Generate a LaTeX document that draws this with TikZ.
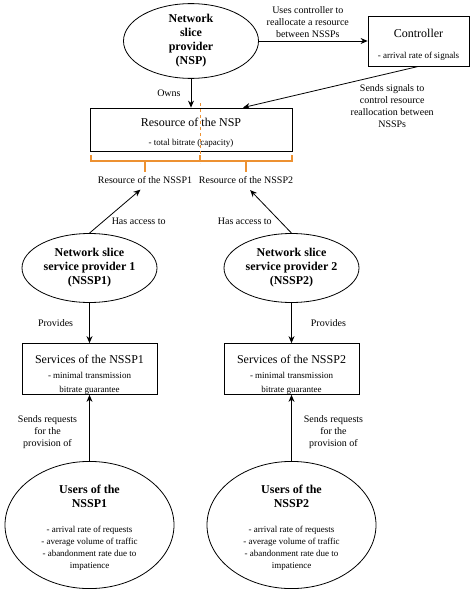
\documentclass[tikz,border=0pt]{standalone}
\usepackage{fontspec}
\setmainfont{Liberation Serif}
\usetikzlibrary{positioning,arrows.meta,shapes.geometric}
\definecolor{sharecolor}{RGB}{237,145,49}

\begin{document}
\begin{tikzpicture}[x=1pt,y=-1pt,
    provider/.style={ellipse, draw, line width=0.8pt, inner sep=0pt, align=center, font=\large\bfseries},
    asset/.style={rectangle, draw, line width=0.8pt, inner sep=0pt, align=center, font=\large},
    small/.style={font=\normalsize, align=center, inner sep=2pt},
    link/.style={-{Stealth[length=7pt,width=6pt]}, line width=0.8pt},
    share/.style={draw=sharecolor, line width=1.2pt}
]
\useasboundingbox (0,0) rectangle (474,594);

\node[provider, minimum width=135pt, minimum height=68pt] (nsp) at (191,41) {Network\\slice\\provider\\(NSP)};
\node[asset, minimum width=101pt, minimum height=50pt] (ctrl) at (418.5,41) {\rule{0pt}{15pt}Controller\\[7pt]{\small - arrival rate of signals}};
\node[asset, minimum width=202pt, minimum height=43pt] (res) at (191,129.5) {\rule{0pt}{14pt}Resource of the NSP\\[5pt]{\small - total bitrate (capacity)}};

% split of the capacity
\draw[share] (91,155) -- (91,161) -- (292,161) -- (292,155);
\draw[share] (200,155) -- (200,161);
\draw[share] (145,161) -- (145,172);
\draw[share] (246,161) -- (246,172);
\draw[sharecolor, dashed, line width=0.6pt] (200,103) -- (200,163);
\node[small] (share1) at (145,180) {Resource of the NSSP1};
\node[small] (share2) at (246,180) {Resource of the NSSP2};

\node[provider, minimum width=135pt, minimum height=69pt] (nssp1) at (89.5,268) {Network slice\\service provider 1\\(NSSP1)};
\node[provider, minimum width=135pt, minimum height=69pt] (nssp2) at (291.5,268) {Network slice\\service provider 2\\(NSSP2)};

\node[asset, minimum width=135pt, minimum height=50pt] (svc1) at (89.5,369) {\rule{0pt}{20pt}Services of the NSSP1\\[1pt]{\small - minimal transmission}\\{\small bitrate guarantee}};
\node[asset, minimum width=135pt, minimum height=50pt] (svc2) at (291.5,369) {\rule{0pt}{20pt}Services of the NSSP2\\[1pt]{\small - minimal transmission}\\{\small bitrate guarantee}};

\node[provider, minimum width=169pt, minimum height=126pt] (users1) at (89.5,525) {\rule{0pt}{13pt}Users of the\\NSSP1\\[11pt]{\small\mdseries - arrival rate of requests}\\[-2pt]{\small\mdseries - average volume of traffic}\\[-2pt]{\small\mdseries - abandonment rate due to}\\[-2pt]{\small\mdseries impatience}};
\node[provider, minimum width=169pt, minimum height=126pt] (users2) at (291.5,525) {\rule{0pt}{13pt}Users of the\\NSSP2\\[11pt]{\small\mdseries - arrival rate of requests}\\[-2pt]{\small\mdseries - average volume of traffic}\\[-2pt]{\small\mdseries - abandonment rate due to}\\[-2pt]{\small\mdseries impatience}};

\draw[link] (nsp) -- node[small, pos=0.45, above=1pt] (uses) {Uses controller to\\reallocate a resource\\between NSSPs} (ctrl);
\draw[link] (nsp) -- node[small, left=8pt] (owns) {Owns} (res);
\draw[link] (ctrl.south) -- node[small, pos=0.15, below=10pt] (sendsig) {Sends signals to\\control resource\\reallocation between\\NSSPs} ([xshift=52pt]res.north);

\draw[link, shorten >=6pt] (nssp1.north) -- node[small, pos=0.25, right=6pt] (access1) {Has access to} (share1.south);
\draw[link, shorten >=6pt] (nssp2.north) -- node[small, pos=0.25, left=6pt] (access2) {Has access to} (share2.south);

\draw[link] (nssp1) -- node[small, left=14pt] (provides1) {Provides} (svc1);
\draw[link] (nssp2) -- node[small, right=17pt] (provides2) {Provides} (svc2);

\draw[link] (users1) -- node[small, pos=0.43, left=10pt] (sends1) {Sends requests\\for the\\provision of} (svc1);
\draw[link] (users2) -- node[small, pos=0.43, right=10pt] (sends2) {Sends requests\\for the\\provision of} (svc2);
\end{tikzpicture}
\end{document}
